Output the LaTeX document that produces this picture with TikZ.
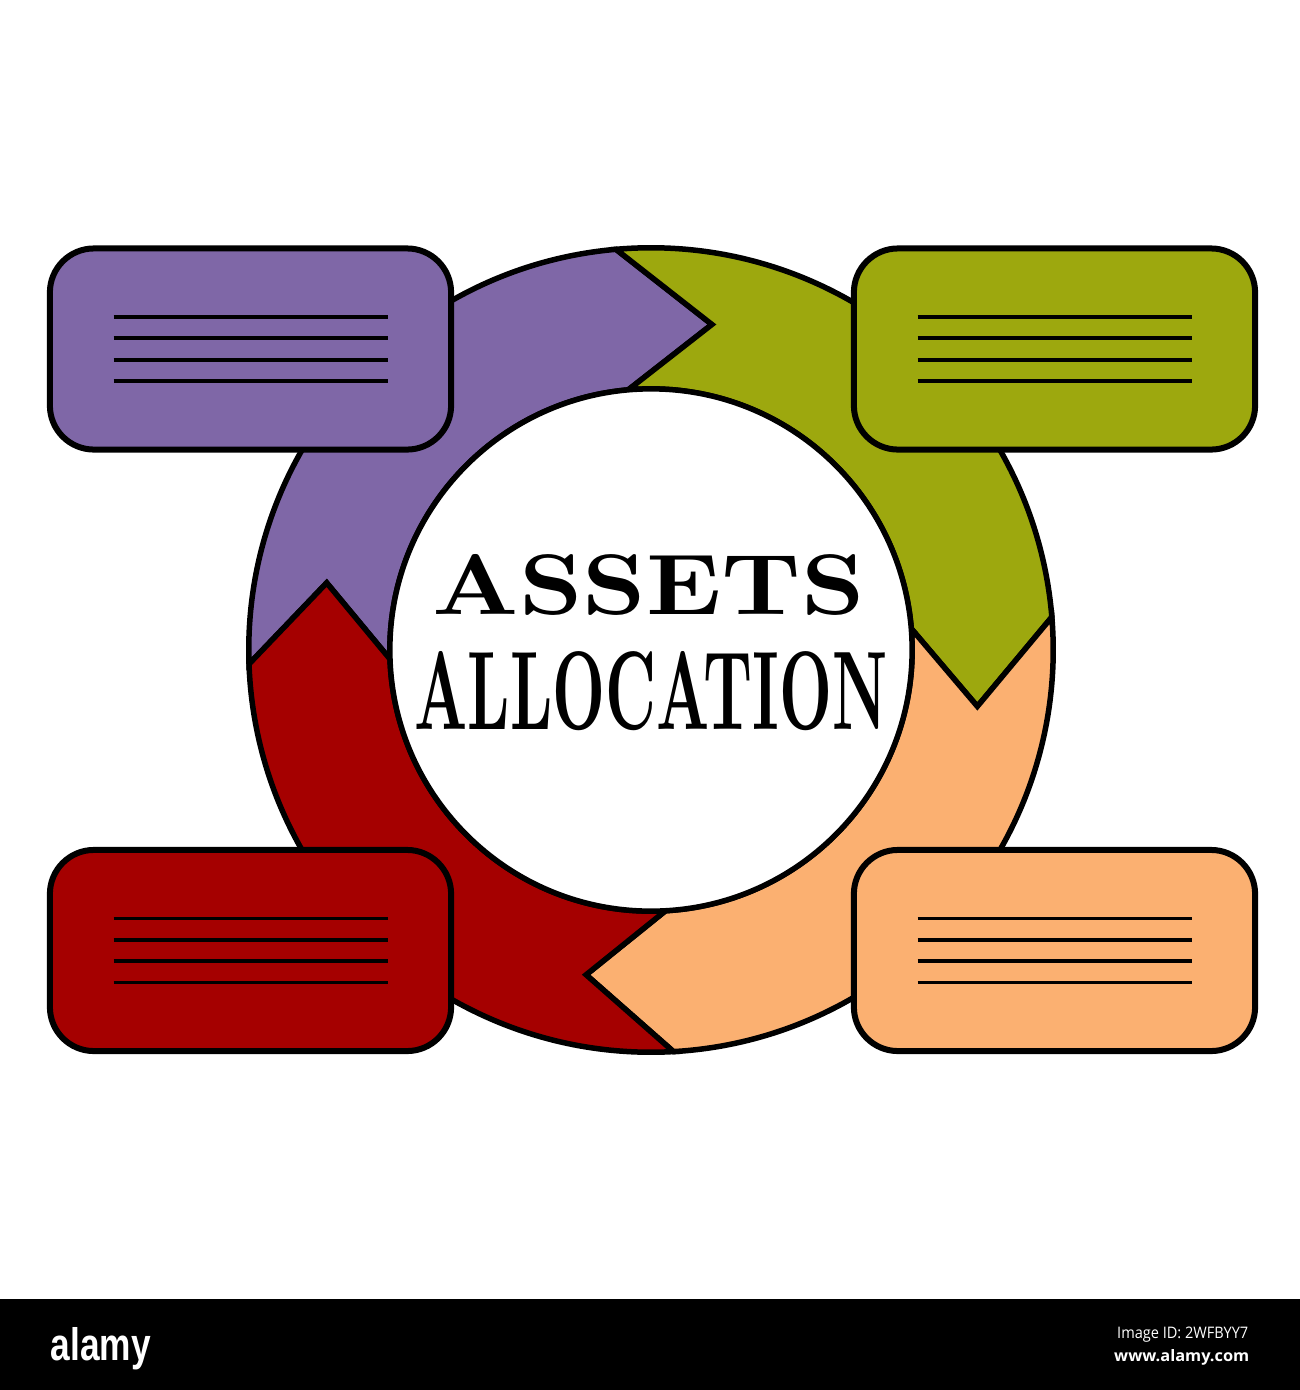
\documentclass[tikz,border=0pt]{standalone}
\usepackage{fontspec}
\usepackage{graphicx}
\usetikzlibrary{calc}
\newfontfamily\opensans{Open Sans}
\newfontfamily\libsans{Liberation Sans}
\definecolor{segPurple}{RGB}{127,103,167}
\definecolor{segOlive}{RGB}{157,168,14}
\definecolor{segPeach}{RGB}{251,176,113}
\definecolor{segRed}{RGB}{165,0,0}
\def\RingOut{4.02cm}
\def\RingIn{2.61cm}
\def\RingMid{3.31cm}
% #1 colour, #2 start (notch side), #3 notch angle, #4 end (tip side), #5 tip angle
\newcommand\ringseg[5]{%
  \filldraw[fill=#1, segline] (#2:\RingOut) arc[start angle=#2, end angle=#4, radius=\RingOut]
    -- (#5:\RingMid) -- (#4:\RingIn) arc[start angle=#4, end angle=#2, radius=\RingIn]
    -- (#3:\RingMid) -- cycle;}
\tikzset{
  segline/.style={draw=black, line width=0.055cm, line join=miter},
  infobox/.style={draw=black, line width=0.06cm, rounded corners=0.44cm,
    minimum width=4.01cm, minimum height=2.01cm, inner sep=0pt},
  textline/.style={draw=black, line width=0.038cm},
}
\begin{document}
\begin{tikzpicture}[x=0.01cm,y=0.01cm]
\useasboundingbox (0,0) rectangle (1300,-1390);
\fill[white] (0,0) rectangle (1300,-1390);

\begin{scope}[shift={(651,-650)}]
  \ringseg{segPurple}{182}{168.3}{95}{79.4}
  \ringseg{segOlive}{95}{79.4}{4.7}{-9.8}
  \ringseg{segPeach}{4.7}{-9.8}{-86.8}{-101.3}
  \ringseg{segRed}{-86.8}{-101.3}{-178}{-191.7}
  \filldraw[fill=white, segline] (0,0) circle[radius=\RingIn];
\end{scope}
\coordinate (center) at (651,-650);

\node[inner sep=0pt] (t1) at (649,-585) {\resizebox{4.32cm}{0.60cm}{\bfseries ASSETS}};
\node[inner sep=0pt] (t2) at (651,-691) {\resizebox{4.73cm}{0.78cm}{\bfseries\addfontfeatures{FakeBold=1.5}ALLOCATION}};

\node[infobox, fill=segPurple] (b1) at (250.5,-349) {};
\node[infobox, fill=segOlive]  (b2) at (1054.5,-349) {};
\node[infobox, fill=segRed]    (b3) at (250.5,-950.5) {};
\node[infobox, fill=segPeach]  (b4) at (1054.5,-950.5) {};

\foreach \b in {b1,b2,b3,b4}{
  \foreach \dy in {32,10.7,-10.7,-32}{
    \draw[textline] ($(\b.center)+(-137,\dy)$) -- ($(\b.center)+(137,\dy)$);
  }
}

\fill[black] (0,-1299) rectangle (1300,-1390);
\node[anchor=base west, inner sep=0pt, text=white] (logo) at (50,-1360)
  {\resizebox{1.0cm}{0.33cm}{\libsans\bfseries alamy}};
\node[anchor=base east, inner sep=0pt, text=white] (imgid) at (1249,-1338)
  {\resizebox{1.31cm}{0.115cm}{\opensans Image ID: 2WFBYY7}};
\node[anchor=base east, inner sep=0pt, text=white] (site) at (1250,-1361)
  {\resizebox{1.35cm}{0.12cm}{\opensans\bfseries www.alamy.com}};
\end{tikzpicture}
\end{document}
